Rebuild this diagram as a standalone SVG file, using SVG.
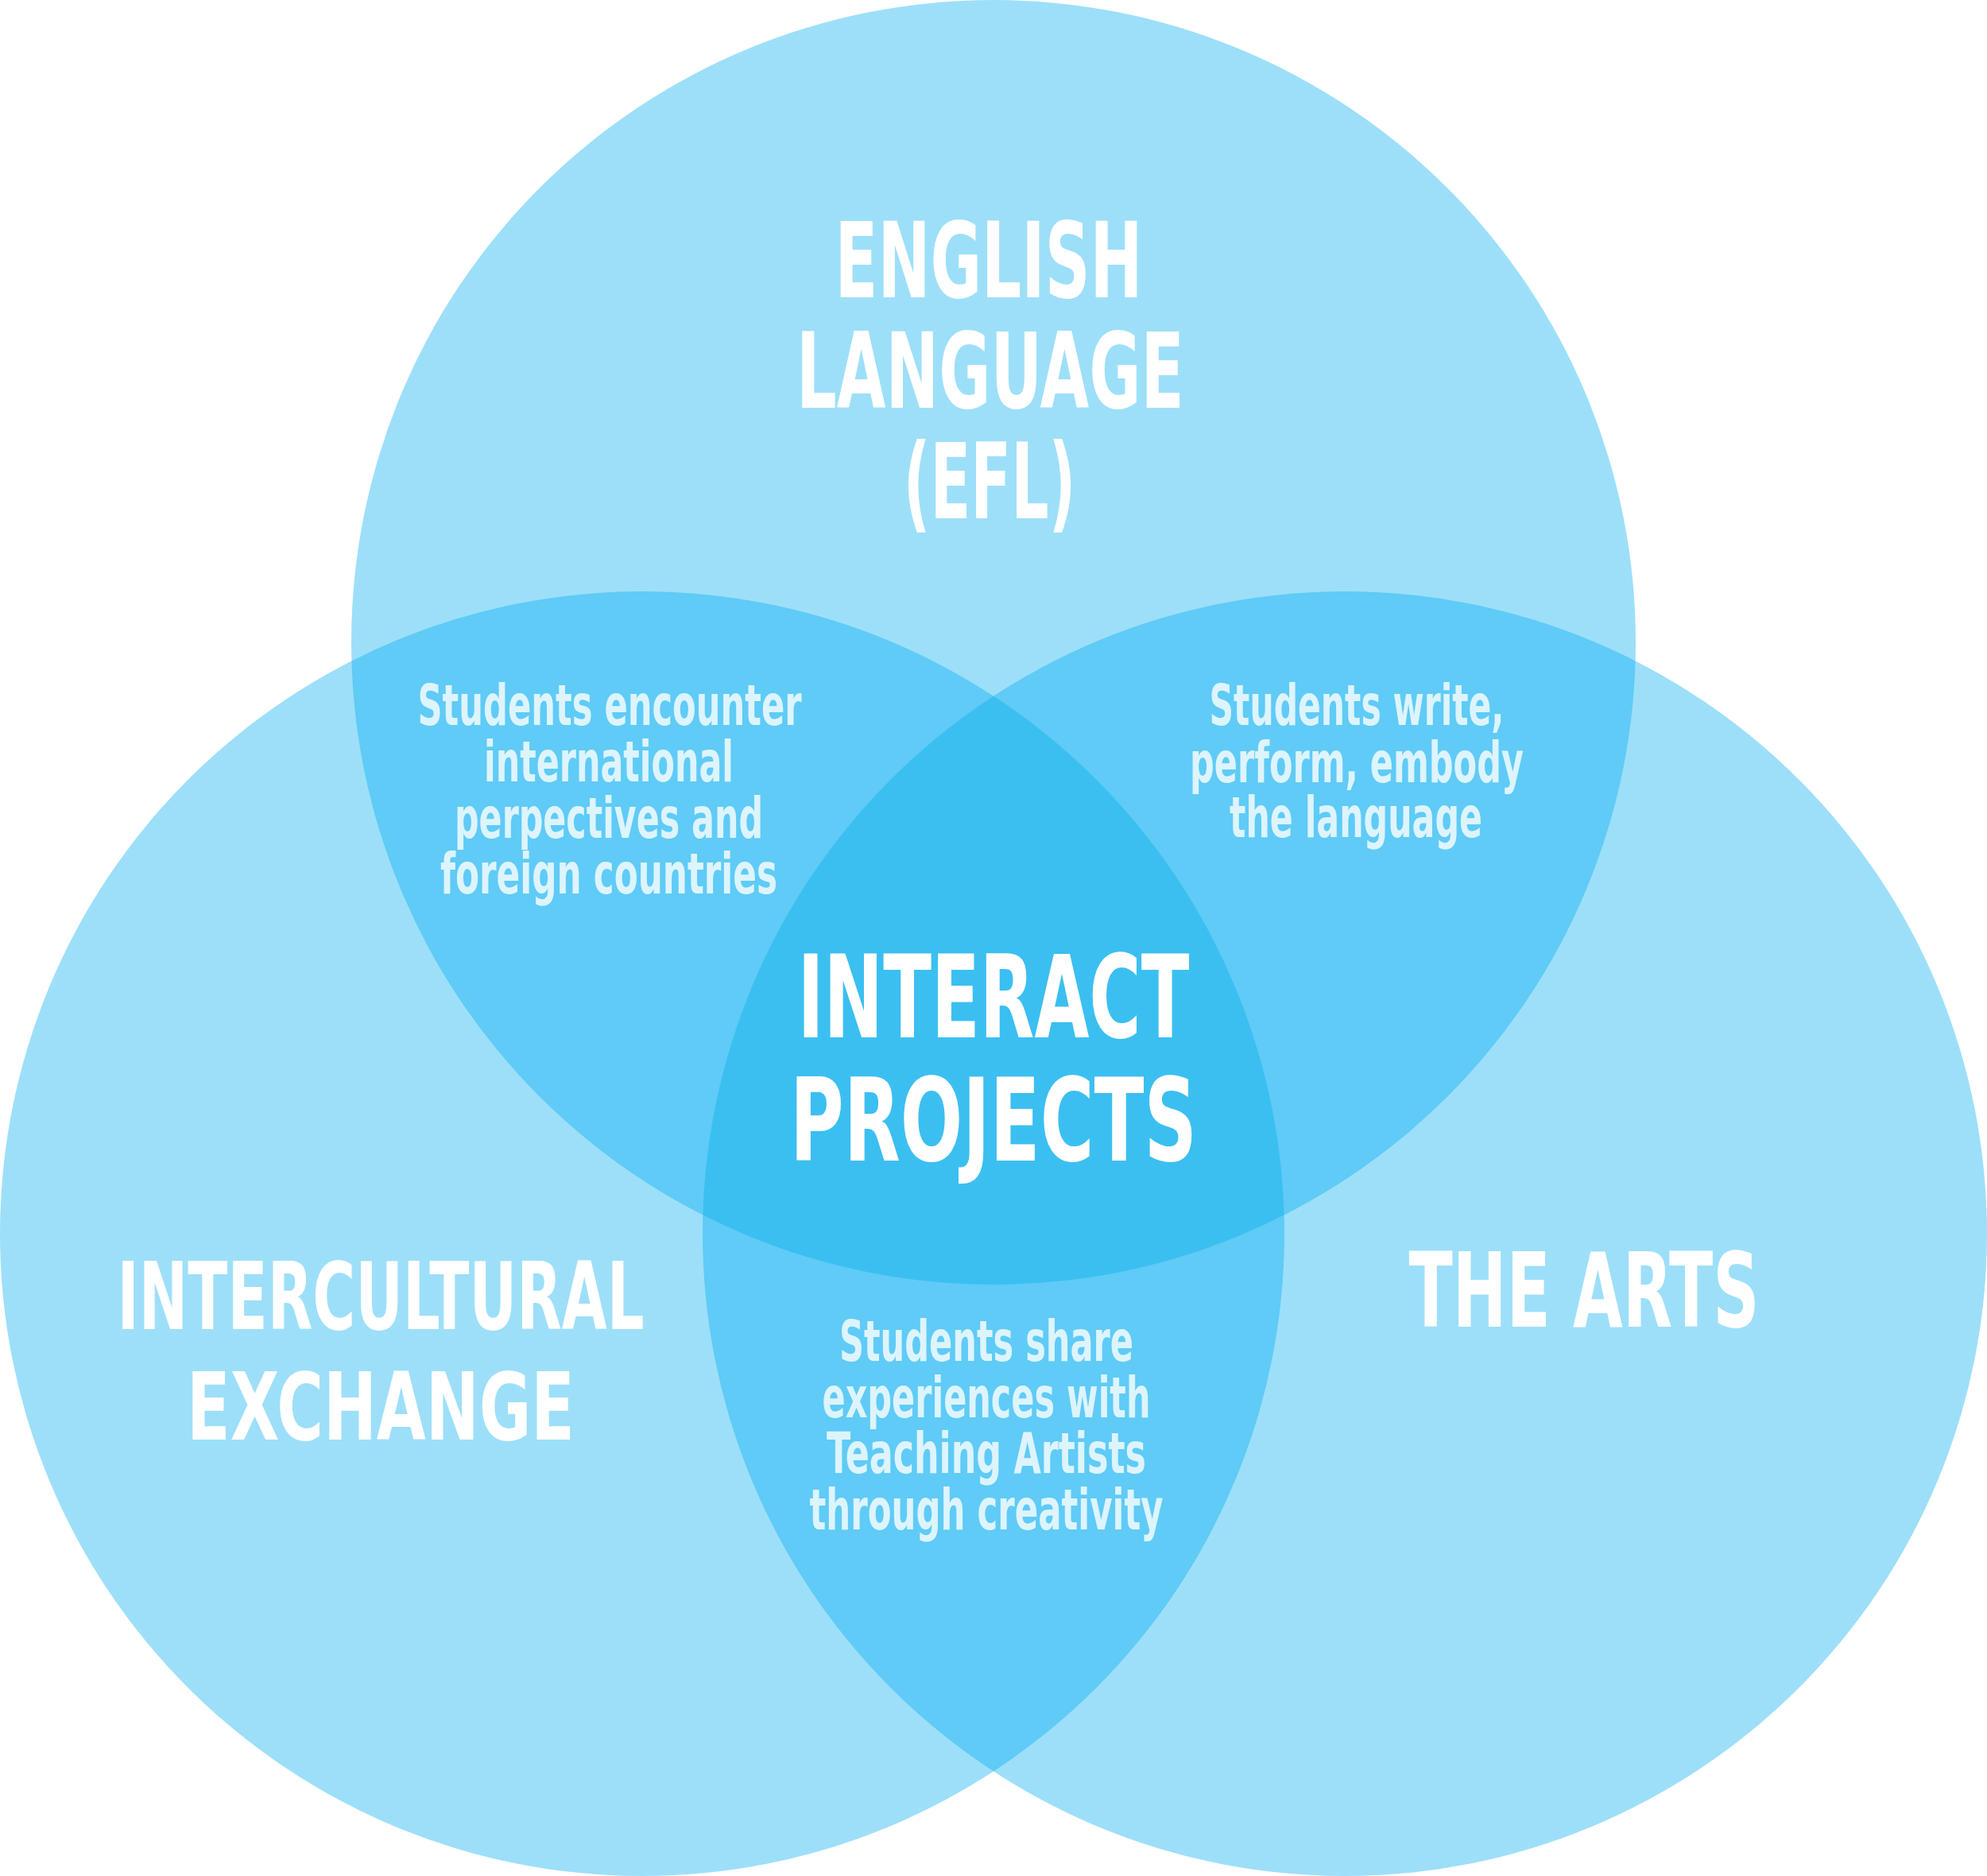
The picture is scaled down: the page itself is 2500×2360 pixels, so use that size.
<svg xmlns="http://www.w3.org/2000/svg" width="2500" height="2360" viewBox="0 0 2500 2360">
<style>
.c1{fill:#9ddff9}
.c2{fill:#5fcbf6}
.c3{fill:#3bbff1}
.big{font-family:"Liberation Sans Narrow","DejaVu Sans Condensed","Liberation Sans",sans-serif;font-weight:bold;fill:#ffffff;text-anchor:middle}
.small{font-family:"Liberation Sans Narrow","DejaVu Sans Condensed","Liberation Sans",sans-serif;font-weight:bold;fill:#ddf4fd;text-anchor:middle;font-size:72px}
</style>
<defs>
<clipPath id="clipT"><circle cx="1250" cy="808" r="808"/></clipPath>
<clipPath id="clipL"><circle cx="808" cy="1552" r="808"/></clipPath>
<clipPath id="clipR"><circle cx="1692" cy="1552" r="808"/></clipPath>
</defs>
<g id="circle-english">
<circle class="c1" cx="1250" cy="808" r="808"/>
</g>
<g id="circle-intercultural">
<circle class="c1" cx="808" cy="1552" r="808"/>
</g>
<g id="circle-arts">
<circle class="c1" cx="1692" cy="1552" r="808"/>
</g>
<g id="overlap-english-intercultural">
<circle class="c2" cx="808" cy="1552" r="808" clip-path="url(#clipT)"/>
</g>
<g id="overlap-english-arts">
<circle class="c2" cx="1692" cy="1552" r="808" clip-path="url(#clipT)"/>
</g>
<g id="overlap-intercultural-arts">
<circle class="c2" cx="1692" cy="1552" r="808" clip-path="url(#clipL)"/>
</g>
<g id="overlap-center" clip-path="url(#clipR)">
<circle class="c3" cx="808" cy="1552" r="808" clip-path="url(#clipT)"/>
</g>
<g id="label-english">
<text class="big" font-size="131" x="1244" y="374" textLength="387" lengthAdjust="spacingAndGlyphs">ENGLISH</text>
<text class="big" font-size="131" x="1246" y="513" textLength="488" lengthAdjust="spacingAndGlyphs">LANGUAGE</text>
<text class="big" font-size="131" x="1245" y="652" textLength="217" lengthAdjust="spacingAndGlyphs">(EFL)</text>
</g>
<g id="label-intercultural">
<text class="big" font-size="117" x="479" y="1672" textLength="663" lengthAdjust="spacingAndGlyphs">INTERCULTURAL</text>
<text class="big" font-size="117" x="479" y="1811" textLength="488" lengthAdjust="spacingAndGlyphs">EXCHANGE</text>
</g>
<g id="label-arts">
<text class="big" font-size="130" x="1993" y="1669" textLength="441" lengthAdjust="spacingAndGlyphs">THE ARTS</text>
</g>
<g id="label-center">
<text class="big" font-size="145" x="1250" y="1305" textLength="493" lengthAdjust="spacingAndGlyphs">INTERACT</text>
<text class="big" font-size="145" x="1250" y="1460" textLength="512" lengthAdjust="spacingAndGlyphs">PROJECTS</text>
</g>
<g id="text-english-intercultural">
<text class="small" x="767" y="912" textLength="483" lengthAdjust="spacingAndGlyphs">Students encounter</text>
<text class="small" x="766" y="983" textLength="314" lengthAdjust="spacingAndGlyphs">international</text>
<text class="small" x="766" y="1054" textLength="388" lengthAdjust="spacingAndGlyphs">perpectives and</text>
<text class="small" x="766" y="1124" textLength="424" lengthAdjust="spacingAndGlyphs">foreign countries</text>
</g>
<g id="text-english-arts">
<text class="small" x="1707" y="912" textLength="371" lengthAdjust="spacingAndGlyphs">Students write,</text>
<text class="small" x="1707" y="984" textLength="420" lengthAdjust="spacingAndGlyphs">perform, embody</text>
<text class="small" x="1706" y="1053" textLength="318" lengthAdjust="spacingAndGlyphs">the language</text>
</g>
<g id="text-intercultural-arts">
<text class="small" x="1241" y="1712" textLength="370" lengthAdjust="spacingAndGlyphs">Students share</text>
<text class="small" x="1241" y="1783" textLength="413" lengthAdjust="spacingAndGlyphs">experiences with</text>
<text class="small" x="1241" y="1853" textLength="402" lengthAdjust="spacingAndGlyphs">Teaching Artists</text>
<text class="small" x="1241" y="1924" textLength="445" lengthAdjust="spacingAndGlyphs">through creativity</text>
</g>
</svg>
